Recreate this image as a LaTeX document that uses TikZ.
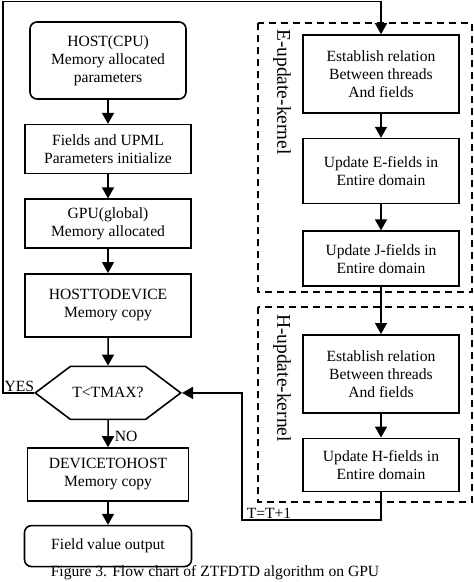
\documentclass[tikz,border=0pt]{standalone}
\usepackage{fontspec}
\setmainfont{Liberation Serif}
\usetikzlibrary{positioning, shapes.symbols, arrows.meta}

\begin{document}
\begin{tikzpicture}[x=1pt, y=-1pt,
	box/.style={draw, line width=1.6pt, minimum width=166pt, align=center, inner sep=2pt, font=\fontsize{15.6}{18}\selectfont},
	rbox/.style={box, rounded corners=7pt},
	test/.style={box, shape=signal, signal to=west and east, signal pointer angle=74, minimum width=142pt, minimum height=53pt},
	kbox/.style={box, minimum width=156pt},
	kernel/.style={draw, line width=1.8pt, dash pattern=on 7pt off 5pt},
	ktext/.style={rotate=-90, inner sep=0pt, font=\fontsize{19.5}{22}\selectfont},
	flow/.style={->, line width=1.5pt, >={Triangle[length=11pt, width=12pt]}},
	lbl/.style={inner sep=1pt, font=\fontsize{15.6}{18}\selectfont}]

		\useasboundingbox (0,0) rectangle (474,582);

		\node[rbox, minimum width=156pt, minimum height=77pt] (1) at (108,60.5) {HOST(CPU)\\Memory allocated\\parameters};
		\node[box, minimum height=49pt, below=24pt of 1] (2) {Fields and UPML\\Parameters initialize};
		\node[box, minimum height=49pt, below=24pt of 2] (3) {GPU(global)\\Memory allocated};
		\node[box, minimum height=63pt, below=24pt of 3] (4) {HOSTTODEVICE\\Memory copy};
		\node[test, below=28pt of 4] (5) {T<TMAX?};
		\node[box, minimum width=161pt, minimum height=53pt, below=27pt of 5] (6) {DEVICETOHOST\\Memory copy};
		\node[rbox, minimum width=167pt, minimum height=41pt, below=23pt of 6] (7) {Field value output};

		\node[kbox, minimum height=78pt] (8) at (381,74) {Establish relation\\Between threads\\And fields};
		\node[kbox, minimum height=65pt, below=24pt of 8] (9) {Update E-fields in\\Entire domain};
		\node[kbox, minimum height=55pt, below=26pt of 9] (10) {Update J-fields in\\Entire domain};
		\node[kbox, minimum height=78pt, below=47pt of 10] (11) {Establish relation\\Between threads\\And fields};
		\node[kbox, minimum height=53pt, below=24pt of 11] (12) {Update H-fields in\\Entire domain};

		% kernel frames
		\draw[kernel] (258,23) rectangle (472,292);
		\draw[kernel] (258,307) rectangle (472,502);
		\node[ktext] (ek) at (282,92) {E-update-kernel};
		\node[ktext] (hk) at (282,378) {H-update-kernel};

		\coordinate (top) at (3,1.5);
		\coordinate (turn) at (242,520);

		\draw[flow]
		(1) edge (2)
		(2) edge (3)
		(3) edge (4)
		(4) edge (5)
		(5) edge node[lbl, right, pos=0.6, xshift=5pt] {NO} (6)
		(6) edge (7)
		(8) edge (9)
		(9) edge (10)
		(10) edge (11)
		(11) edge (12);

		\draw[flow] (5.west) node[lbl, above left, xshift=2pt] {YES} -| (top) -| (8.north);
		\draw[flow] (12) |- (turn) node[lbl, above right, xshift=3pt] {T=T+1} |- (5.east);

		\node[lbl, anchor=south, inner sep=0pt] (cap) at (215,580) {Figure 3. Flow chart of ZTFDTD algorithm on GPU};
		\end{tikzpicture}
\end{document}
